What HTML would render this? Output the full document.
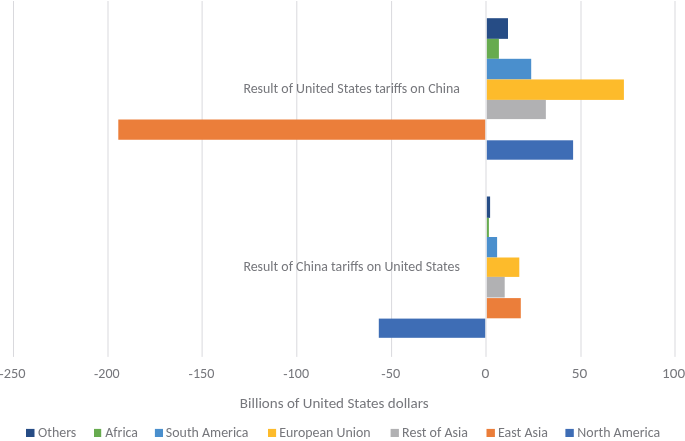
<!DOCTYPE html>
<html><head><meta charset="utf-8"><title>Chart</title>
<style>
html,body{margin:0;padding:0;background:#fff;}
body{width:685px;height:441px;overflow:hidden;}
svg{display:block;}
text{font-family:Carlito,"Liberation Sans",sans-serif;fill:#76777C;}
</style></head><body>
<svg width="685" height="441" viewBox="0 0 685 441">
<rect width="685" height="441" fill="#fff"/>

<line x1="13.50" y1="1" x2="13.50" y2="356.9" stroke="#D9D9DD" stroke-width="1"/>
<line x1="108.00" y1="1" x2="108.00" y2="356.9" stroke="#D9D9DD" stroke-width="1"/>
<line x1="202.10" y1="1" x2="202.10" y2="356.9" stroke="#D9D9DD" stroke-width="1"/>
<line x1="296.80" y1="1" x2="296.80" y2="356.9" stroke="#D9D9DD" stroke-width="1"/>
<line x1="391.60" y1="1" x2="391.60" y2="356.9" stroke="#D9D9DD" stroke-width="1"/>
<line x1="486.00" y1="1" x2="486.00" y2="356.9" stroke="#D9D9DD" stroke-width="1"/>
<line x1="581.00" y1="1" x2="581.00" y2="356.9" stroke="#D9D9DD" stroke-width="1"/>
<line x1="675.00" y1="1" x2="675.00" y2="356.9" stroke="#D9D9DD" stroke-width="1"/>
<rect x="486.85" y="18.20" width="21.15" height="20.65" fill="#264C85"/>
<rect x="486.85" y="38.85" width="12.05" height="19.95" fill="#67AB4F"/>
<rect x="486.85" y="58.80" width="44.35" height="20.65" fill="#4A8FCD"/>
<rect x="486.85" y="79.45" width="137.05" height="20.45" fill="#FDBB2B"/>
<rect x="486.85" y="99.90" width="59.00" height="19.20" fill="#B1B1B3"/>
<rect x="118.30" y="119.50" width="366.90" height="20.25" fill="#EB7E3A"/>
<rect x="486.85" y="140.30" width="86.25" height="19.40" fill="#3E6DB5"/>
<rect x="486.85" y="196.50" width="3.25" height="21.35" fill="#264C85"/>
<rect x="486.85" y="217.85" width="2.05" height="19.15" fill="#67AB4F"/>
<rect x="486.85" y="237.00" width="10.25" height="20.50" fill="#4A8FCD"/>
<rect x="486.85" y="257.50" width="32.45" height="19.40" fill="#FDBB2B"/>
<rect x="486.85" y="276.90" width="17.85" height="20.60" fill="#B1B1B3"/>
<rect x="486.85" y="298.10" width="33.95" height="20.20" fill="#EB7E3A"/>
<rect x="378.80" y="318.60" width="106.40" height="19.20" fill="#3E6DB5"/>
<rect x="26.0" y="428.9" width="8.5" height="8.1" fill="#264C85"/>
<rect x="94.0" y="428.9" width="7.2" height="8.1" fill="#67AB4F"/>
<rect x="154.9" y="428.9" width="8.1" height="8.1" fill="#4A8FCD"/>
<rect x="268.0" y="428.9" width="8.1" height="8.1" fill="#FDBB2B"/>
<rect x="390.6" y="428.9" width="8.3" height="8.1" fill="#B1B1B3"/>
<rect x="486.5" y="428.9" width="8.4" height="8.1" fill="#EB7E3A"/>
<rect x="565.4" y="428.9" width="8.4" height="8.1" fill="#3E6DB5"/>
<text x="243.42" y="92.6" font-size="13.333" textLength="216.60" lengthAdjust="spacingAndGlyphs">Result of United States tariffs on China</text>
<text x="243.42" y="270.8" font-size="13.333" textLength="216.56" lengthAdjust="spacingAndGlyphs">Result of China tariffs on United States</text>
<text x="-0.72" y="377.9" font-size="13.333" textLength="26.21" lengthAdjust="spacingAndGlyphs"><tspan dy="1.3">-</tspan><tspan dy="-1.3">250</tspan></text>
<text x="94.10" y="377.9" font-size="13.333" textLength="25.53" lengthAdjust="spacingAndGlyphs"><tspan dy="1.3">-</tspan><tspan dy="-1.3">200</tspan></text>
<text x="188.57" y="377.9" font-size="13.333" textLength="25.79" lengthAdjust="spacingAndGlyphs"><tspan dy="1.3">-</tspan><tspan dy="-1.3">150</tspan></text>
<text x="283.31" y="377.9" font-size="13.333" textLength="25.71" lengthAdjust="spacingAndGlyphs"><tspan dy="1.3">-</tspan><tspan dy="-1.3">100</tspan></text>
<text x="381.35" y="377.9" font-size="13.333" textLength="18.85" lengthAdjust="spacingAndGlyphs"><tspan dy="1.3">-</tspan><tspan dy="-1.3">50</tspan></text>
<text x="481.52" y="377.9" font-size="13.333" textLength="7.84" lengthAdjust="spacingAndGlyphs">0</text>
<text x="571.74" y="377.9" font-size="13.333" textLength="15.51" lengthAdjust="spacingAndGlyphs">50</text>
<text x="662.10" y="377.9" font-size="13.333" textLength="23.00" lengthAdjust="spacingAndGlyphs">100</text>
<text x="239.89" y="407.7" font-size="14.667" textLength="188.70" lengthAdjust="spacingAndGlyphs">Billions of United States dollars</text>
<text x="38.05" y="436.8" font-size="13.333" textLength="38.19" lengthAdjust="spacingAndGlyphs">Others</text>
<text x="105.30" y="436.8" font-size="13.333" textLength="32.67" lengthAdjust="spacingAndGlyphs">Africa</text>
<text x="165.89" y="436.8" font-size="13.333" textLength="82.65" lengthAdjust="spacingAndGlyphs">South America</text>
<text x="279.20" y="436.8" font-size="13.333" textLength="91.42" lengthAdjust="spacingAndGlyphs">European Union</text>
<text x="402.14" y="436.8" font-size="13.333" textLength="65.73" lengthAdjust="spacingAndGlyphs">Rest of Asia</text>
<text x="498.03" y="436.8" font-size="13.333" textLength="49.84" lengthAdjust="spacingAndGlyphs">East Asia</text>
<text x="577.33" y="436.8" font-size="13.333" textLength="82.83" lengthAdjust="spacingAndGlyphs">North America</text>
</svg>
</body></html>
